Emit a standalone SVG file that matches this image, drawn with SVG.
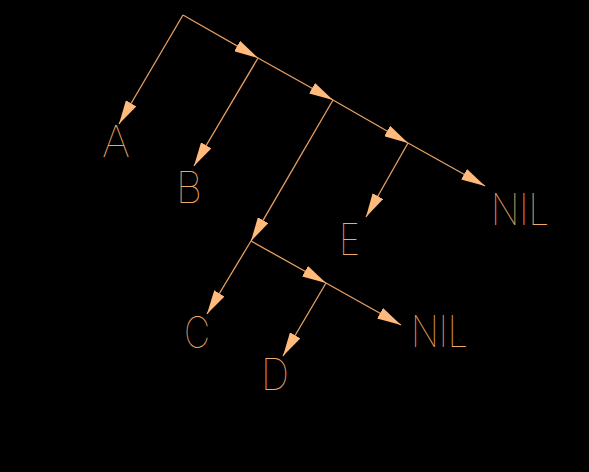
<svg xmlns="http://www.w3.org/2000/svg" width="589" height="472" viewBox="0 0 589 472">
  <style>
    .edge { stroke: #E8A062; stroke-width: 1.3; fill: none; marker-end: url(#arrow); }
    .lbl { font-family: "Inter", "DejaVu Sans", sans-serif; font-weight: 100; font-size: 44px; fill: #F0AA6A; }
  </style>
  <defs>
    <marker id="arrow" viewBox="0 0 24 12" refX="24" refY="6" markerWidth="24" markerHeight="12" markerUnits="userSpaceOnUse" orient="auto">
      <path d="M0,0 L24,6 L0,12 Z" fill="#FFBA7C"/>
    </marker>
  </defs>
  <rect x="0" y="0" width="589" height="472" fill="#000"/>
  <g id="connectors">
    <line class="edge" x1="183" y1="15" x2="258" y2="58"/>
    <line class="edge" x1="258" y1="58" x2="333" y2="100"/>
    <line class="edge" x1="333" y1="100" x2="408" y2="143"/>
    <line class="edge" x1="408" y1="143" x2="485" y2="186"/>
    <line class="edge" x1="183" y1="15" x2="119" y2="124"/>
    <line class="edge" x1="258" y1="58" x2="194" y2="166"/>
    <line class="edge" x1="333" y1="100" x2="251" y2="241"/>
    <line class="edge" x1="408" y1="143" x2="366" y2="217"/>
    <line class="edge" x1="251" y1="241" x2="326" y2="283"/>
    <line class="edge" x1="326" y1="283" x2="401" y2="325"/>
    <line class="edge" x1="251" y1="241" x2="207" y2="314"/>
    <line class="edge" x1="326" y1="283" x2="283" y2="356"/>
  </g>
  <g id="node-A"><text class="lbl" x="102" y="157" textLength="28" lengthAdjust="spacingAndGlyphs">A</text></g>
  <g id="node-B"><text class="lbl" x="176" y="203" textLength="26" lengthAdjust="spacingAndGlyphs">B</text></g>
  <g id="node-NIL1"><text class="lbl" x="491" y="225" textLength="58" lengthAdjust="spacingAndGlyphs">NIL</text></g>
  <g id="node-E"><text class="lbl" x="339" y="255" textLength="21" lengthAdjust="spacingAndGlyphs">E</text></g>
  <g id="node-C"><text class="lbl" x="184" y="348" textLength="26" lengthAdjust="spacingAndGlyphs">C</text></g>
  <g id="node-D"><text class="lbl" x="261" y="390" textLength="28" lengthAdjust="spacingAndGlyphs">D</text></g>
  <g id="node-NIL2"><text class="lbl" x="411" y="347" textLength="57" lengthAdjust="spacingAndGlyphs">NIL</text></g>
</svg>
